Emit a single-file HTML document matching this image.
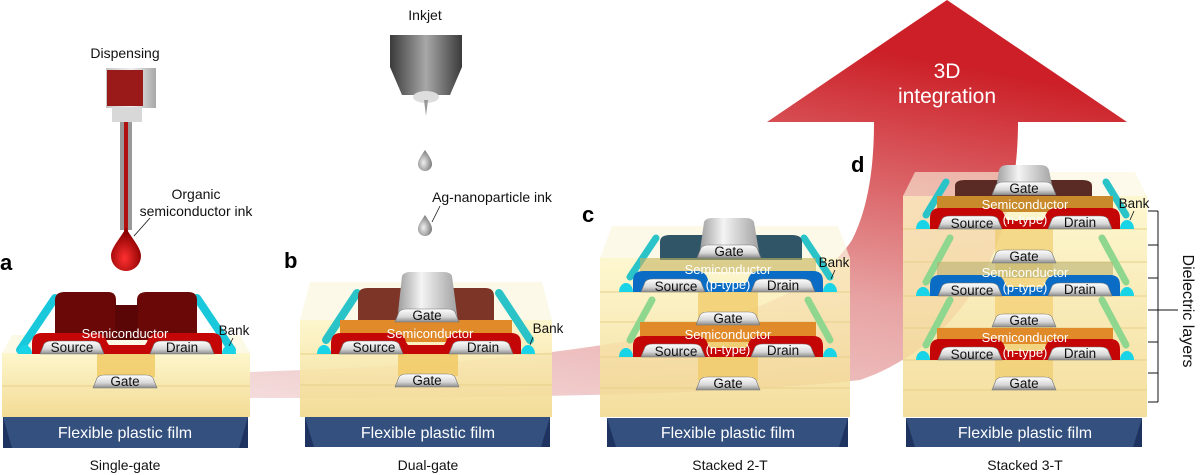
<!DOCTYPE html>
<html><head><meta charset="utf-8"><style>
html,body{margin:0;padding:0;background:#fff;}
svg{display:block;font-family:"Liberation Sans",Arial,sans-serif;}
.w{fill:#fff;font-size:13px;text-anchor:middle;}
.k{fill:#111;font-size:13.5px;text-anchor:middle;}
.f{fill:#fff;font-size:16px;text-anchor:middle;}
.l{fill:#111;font-size:14px;text-anchor:middle;}
.big{fill:#000;font-size:22px;font-weight:bold;}
</style></head><body>
<svg width="1200" height="475" viewBox="0 0 1200 475" xmlns="http://www.w3.org/2000/svg">
<defs>
<linearGradient id="arr" x1="0" y1="1" x2="0.4" y2="0">
<stop offset="0" stop-color="#f4dcdc"/><stop offset="0.45" stop-color="#e8a4a4"/><stop offset="1" stop-color="#cc1f27"/></linearGradient>
<linearGradient id="pg" x1="0" y1="0" x2="0" y2="1"><stop offset="0" stop-color="#ffffff"/><stop offset="0.6" stop-color="#d8d8d8"/><stop offset="1" stop-color="#8a8a8a"/></linearGradient>
<linearGradient id="tg" x1="0" y1="0" x2="1" y2="0"><stop offset="0" stop-color="#9a9a9a"/><stop offset="0.4" stop-color="#f4f4f4"/><stop offset="1" stop-color="#a0a0a0"/></linearGradient>
<linearGradient id="yf" x1="0" y1="0" x2="0" y2="1"><stop offset="0" stop-color="#fdf6c8"/><stop offset="1" stop-color="#f2d88c"/></linearGradient>
<linearGradient id="hd" x1="0" y1="0" x2="1" y2="0"><stop offset="0" stop-color="#3a3a3a"/><stop offset="0.5" stop-color="#a8a8a8"/><stop offset="1" stop-color="#3a3a3a"/></linearGradient>
<linearGradient id="cyl" x1="0" y1="0" x2="1" y2="0"><stop offset="0" stop-color="#bbb"/><stop offset="0.5" stop-color="#eee"/><stop offset="1" stop-color="#999"/></linearGradient>
<radialGradient id="drop" cx="0.45" cy="0.7" r="0.6"><stop offset="0" stop-color="#ff3030"/><stop offset="1" stop-color="#8a0000"/></radialGradient>
<radialGradient id="ag" cx="0.4" cy="0.6" r="0.6"><stop offset="0" stop-color="#f0f0f0"/><stop offset="1" stop-color="#7a7a7a"/></radialGradient>
<path id="pill" d="M-32,0 L-28,-10 Q-26,-13 -20,-13 H20 Q26,-13 28,-10 L32,0 Z" fill="url(#pg)" stroke="#777" stroke-width="0.6"/>
<g id="tr">
<path d="M-95,0 V-11 Q-95,-21 -85,-21 H-32 Q-22,-21 -20,-12 L-18,-9 H18 L20,-12 Q22,-21 32,-21 H85 Q95,-21 95,-11 V0 Z" fill="currentColor"/>
<use href="#pill" x="-55" y="0"/>
<use href="#pill" x="55" y="0"/>
<path d="M-109,0 A7,9 0 0 1 -95,0 Z" fill="#19d4e6"/>
<path d="M95,0 A7,9 0 0 1 109,0 Z" fill="#19d4e6"/>
</g>
</defs>

<!-- 3D arrow -->
<path d="M250,372 C560,362 790,335 852,240 C870,205 874,160 874,122 L767,122 L947,0 L1127,122 L1018,122 C1018,250 960,345 860,380 C700,398 420,398 250,398 Z" fill="url(#arr)"/>
<text x="947" y="78" fill="#fff" font-size="21" text-anchor="middle">3D</text>
<text x="947" y="103" fill="#fff" font-size="21" text-anchor="middle">integration</text>

<!-- Dispenser -->
<text x="125" y="58" class="l">Dispensing</text>
<rect x="106" y="68" width="50" height="40" fill="url(#cyl)" opacity="0.85"/>
<rect x="107" y="70" width="36" height="36" fill="#9a1a1a"/>
<rect x="112" y="107" width="30" height="15" fill="#d8d8d8"/>
<rect x="120" y="122" width="12" height="108" fill="#999"/>
<rect x="124" y="122" width="4" height="110" fill="#b01010"/>
<path d="M126,228 C133,240 141,248 141,256 A15,15 0 0 1 111,256 C111,248 119,240 126,228 Z" fill="url(#drop)"/>
<text x="196" y="199" class="l">Organic</text>
<text x="196" y="216" class="l">semiconductor ink</text>
<line x1="150" y1="218" x2="134" y2="236" stroke="#111" stroke-width="0.8"/>

<!-- Inkjet -->
<text x="425" y="20" class="l">Inkjet</text>
<rect x="390" y="35" width="72" height="32" fill="url(#hd)"/>
<path d="M390,67 H462 L450,95 H402 Z" fill="url(#hd)"/>
<ellipse cx="426" cy="97" rx="13" ry="6" fill="#ddd"/>
<path d="M424,100 L428,100 L426,116 Z" fill="#999"/>
<path d="M425,150 C429,156 432,160 432,164 A7,7 0 0 1 418,164 C418,160 421,156 425,150 Z" fill="url(#ag)"/>
<path d="M425,215 C429,221 432,225 432,229 A7,7 0 0 1 418,229 C418,225 421,221 425,215 Z" fill="url(#ag)"/>
<text x="492" y="202" class="l">Ag-nanoparticle ink</text>
<line x1="440" y1="206" x2="432" y2="222" stroke="#111" stroke-width="0.8"/>

<text x="0" y="270" class="big">a</text>
<text x="284" y="268" class="big">b</text>
<text x="582" y="222" class="big">c</text>
<text x="851" y="172" class="big">d</text>

<!-- ===== Panel a ===== -->
<g>
<path d="M2,353 L12,335 H240 L250,353 Z" fill="#fbf7e0" opacity="0.8"/>
<rect x="2" y="353" width="248" height="64" fill="url(#yf)" opacity="0.92"/>
<line x1="2" y1="386" x2="250" y2="386" stroke="#e6d08a"/>
<rect x="97" y="353" width="58" height="24" fill="#f0c860" opacity="0.8"/>
<line x1="20" y1="350" x2="55" y2="298" stroke="#19c8da" stroke-width="8" stroke-linecap="round"/>
<line x1="232" y1="350" x2="197" y2="298" stroke="#19c8da" stroke-width="8" stroke-linecap="round"/>
<path d="M55,340 V300 Q55,292 65,292 H108 Q116,292 116,300 V340 Z" fill="#6a0808"/>
<path d="M137,340 V300 Q137,292 147,292 H188 Q197,292 197,300 V340 Z" fill="#6a0808"/>
<rect x="115" y="305" width="23" height="35" fill="#5a0606"/>
<use href="#tr" x="127" y="354" color="#c40606"/>
<text x="125" y="338" class="w">Semiconductor</text>
<text x="72" y="352" class="k">Source</text>
<text x="182" y="352" class="k">Drain</text>
<use href="#pill" x="125" y="388"/>
<text x="125" y="386" class="k">Gate</text>
<text x="234" y="335" class="k">Bank</text>
<line x1="233" y1="338" x2="229" y2="346" stroke="#111" stroke-width="0.8"/>
<path d="M3,417 H248 V448 H3 Z" fill="#33507f"/>
<path d="M3,417 L12,448 H3 Z M248,417 L239,448 H248 Z" fill="#1e3360"/>
<text x="125" y="438" class="f">Flexible plastic film</text>
<text x="125" y="470" class="l">Single-gate</text>
</g>

<!-- ===== Panel b ===== -->
<g>
<path d="M300,320 L310,282 H542 L552,320 Z" fill="#fbf7e0" opacity="0.75"/>
<rect x="300" y="320" width="252" height="97" fill="url(#yf)" opacity="0.9"/>
<line x1="300" y1="354" x2="552" y2="354" stroke="#e6d08a"/>
<line x1="300" y1="385" x2="552" y2="385" stroke="#e6d08a"/>
<rect x="398" y="354" width="60" height="22" fill="#f0c860" opacity="0.8"/>
<line x1="326" y1="340" x2="357" y2="293" stroke="#2ac4c8" stroke-width="8" stroke-linecap="round"/>
<line x1="530" y1="340" x2="499" y2="293" stroke="#2ac4c8" stroke-width="8" stroke-linecap="round"/>
<path d="M358,322 V296 Q358,288 368,288 H485 Q494,288 494,296 V322 Z" fill="#7c3526"/>
<rect x="340" y="320" width="172" height="22" fill="#e08a2a"/>
<use href="#tr" x="426" y="354" color="#c40606"/>
<path d="M397,322 L402,276 Q404,272 410,272 H444 Q450,272 452,276 L458,322 Z" fill="url(#tg)"/>
<use href="#pill" x="427" y="322"/>
<text x="427" y="320" class="k">Gate</text>
<text x="430" y="338" class="w">Semiconductor</text>
<text x="374" y="352" class="k">Source</text>
<text x="483" y="352" class="k">Drain</text>
<use href="#pill" x="427" y="387"/>
<text x="427" y="385" class="k">Gate</text>
<text x="548" y="333" class="k">Bank</text>
<line x1="533" y1="337" x2="530" y2="345" stroke="#111" stroke-width="0.8"/>
<path d="M305,417 H550 V447 H305 Z" fill="#33507f"/>
<path d="M305,417 L314,447 H305 Z M550,417 L541,447 H550 Z" fill="#1e3360"/>
<text x="428" y="438" class="f">Flexible plastic film</text>
<text x="428" y="470" class="l">Dual-gate</text>
</g>

<!-- ===== Panel c ===== -->
<g>
<path d="M600,258 L612,226 H838 L850,258 Z" fill="#fbf7e0" opacity="0.7"/>
<rect x="600" y="258" width="250" height="159" fill="url(#yf)" opacity="0.85"/>
<line x1="600" y1="292" x2="850" y2="292" stroke="#e6d08a"/>
<line x1="600" y1="322" x2="850" y2="322" stroke="#e6d08a"/>
<line x1="600" y1="357" x2="850" y2="357" stroke="#e6d08a"/>
<line x1="600" y1="388" x2="850" y2="388" stroke="#e6d08a"/>
<rect x="698" y="292" width="60" height="88" fill="#f0c860" opacity="0.7"/>
<line x1="630" y1="340" x2="652" y2="300" stroke="#8fd68f" stroke-width="7" stroke-linecap="round"/>
<line x1="830" y1="340" x2="808" y2="300" stroke="#8fd68f" stroke-width="7" stroke-linecap="round"/>
<rect x="640" y="322" width="176" height="20" fill="#e08a2a"/>
<use href="#tr" x="728" y="357" color="#c40606"/>
<line x1="630" y1="277" x2="656" y2="238" stroke="#2ac4c8" stroke-width="7" stroke-linecap="round"/>
<line x1="830" y1="277" x2="804" y2="238" stroke="#2ac4c8" stroke-width="7" stroke-linecap="round"/>
<path d="M660,260 V242 Q660,235 670,235 H792 Q802,235 802,242 V260 Z" fill="#2f5566"/>
<rect x="640" y="258" width="176" height="14" fill="#c4b460" opacity="0.6"/>
<use href="#tr" x="728" y="292" color="#0a6cc4"/>
<path d="M699,258 L704,222 Q706,218 712,218 H746 Q752,218 754,222 L760,258 Z" fill="url(#tg)"/>
<use href="#pill" x="729" y="258"/>
<text x="729" y="256" class="k">Gate</text>
<text x="728" y="274" class="w">Semiconductor</text>
<text x="728" y="289" class="w">(p-type)</text>
<text x="676" y="291" class="k">Source</text>
<text x="783" y="290" class="k">Drain</text>
<use href="#pill" x="728" y="325"/>
<text x="728" y="323" class="k">Gate</text>
<text x="728" y="339" class="w">Semiconductor</text>
<text x="728" y="354" class="w">(n-type)</text>
<text x="676" y="356" class="k">Source</text>
<text x="783" y="355" class="k">Drain</text>
<use href="#pill" x="728" y="390"/>
<text x="728" y="388" class="k">Gate</text>
<text x="834" y="267" class="k">Bank</text>
<line x1="835" y1="270" x2="831" y2="279" stroke="#111" stroke-width="0.8"/>
<path d="M607,418 H848 V447 H607 Z" fill="#33507f"/>
<path d="M607,418 L616,447 H607 Z M848,418 L839,447 H848 Z" fill="#1e3360"/>
<text x="728" y="438" class="f">Flexible plastic film</text>
<text x="730" y="470" class="l">Stacked 2-T</text>
</g>

<!-- ===== Panel d ===== -->
<g>
<path d="M903,196 L915,172 H1135 L1147,196 Z" fill="#fbf7e0" opacity="0.6"/>
<rect x="903" y="196" width="244" height="221" fill="url(#yf)" opacity="0.84"/>
<line x1="903" y1="229" x2="1147" y2="229" stroke="#e6d08a"/>
<line x1="903" y1="262" x2="1147" y2="262" stroke="#e6d08a"/>
<line x1="903" y1="296" x2="1147" y2="296" stroke="#e6d08a"/>
<line x1="903" y1="328" x2="1147" y2="328" stroke="#e6d08a"/>
<line x1="903" y1="360" x2="1147" y2="360" stroke="#e6d08a"/>
<line x1="903" y1="390" x2="1147" y2="390" stroke="#e6d08a"/>
<rect x="995" y="229" width="58" height="152" fill="#f0c860" opacity="0.6"/>
<line x1="926" y1="345" x2="950" y2="300" stroke="#8fd68f" stroke-width="7" stroke-linecap="round"/>
<line x1="1126" y1="345" x2="1102" y2="300" stroke="#8fd68f" stroke-width="7" stroke-linecap="round"/>
<line x1="926" y1="282" x2="950" y2="238" stroke="#8fd68f" stroke-width="7" stroke-linecap="round"/>
<line x1="1126" y1="282" x2="1102" y2="238" stroke="#8fd68f" stroke-width="7" stroke-linecap="round"/>
<rect x="937" y="328" width="176" height="16" fill="#e08a2a"/>
<use href="#tr" x="1025" y="360" color="#c40606"/>
<rect x="937" y="262" width="176" height="16" fill="#b8b070" opacity="0.6"/>
<use href="#tr" x="1025" y="296" color="#0a6cc4"/>
<line x1="926" y1="215" x2="946" y2="182" stroke="#2ac4c8" stroke-width="7" stroke-linecap="round"/>
<line x1="1126" y1="215" x2="1106" y2="182" stroke="#2ac4c8" stroke-width="7" stroke-linecap="round"/>
<path d="M955,198 V186 Q955,180 965,180 H1082 Q1092,180 1092,186 V198 Z" fill="#5a2a24"/>
<rect x="937" y="196" width="176" height="16" fill="#c88a2a"/>
<use href="#tr" x="1025" y="229" color="#c40606"/>
<path d="M995,195 L999,170 Q1001,165 1007,165 H1041 Q1047,165 1049,170 L1054,195 Z" fill="url(#tg)"/>
<use href="#pill" x="1024" y="195"/>
<text x="1024" y="193" class="k">Gate</text>
<text x="1025" y="209" class="w">Semiconductor</text>
<text x="1025" y="224" class="w">(n-type)</text>
<text x="972" y="228" class="k">Source</text>
<text x="1080" y="227" class="k">Drain</text>
<use href="#pill" x="1024" y="263"/>
<text x="1024" y="261" class="k">Gate</text>
<text x="1025" y="277" class="w">Semiconductor</text>
<text x="1025" y="292" class="w">(p-type)</text>
<text x="972" y="295" class="k">Source</text>
<text x="1080" y="294" class="k">Drain</text>
<use href="#pill" x="1024" y="327"/>
<text x="1024" y="325" class="k">Gate</text>
<text x="1025" y="342" class="w">Semiconductor</text>
<text x="1025" y="357" class="w">(n-type)</text>
<text x="972" y="359" class="k">Source</text>
<text x="1080" y="358" class="k">Drain</text>
<use href="#pill" x="1024" y="390"/>
<text x="1024" y="388" class="k">Gate</text>
<text x="1134" y="208" class="k">Bank</text>
<line x1="1134" y1="211" x2="1130" y2="220" stroke="#111" stroke-width="0.8"/>
<path d="M906,418 H1142 V447 H906 Z" fill="#33507f"/>
<path d="M906,418 L915,447 H906 Z M1142,418 L1133,447 H1142 Z" fill="#1e3360"/>
<text x="1025" y="438" class="f">Flexible plastic film</text>
<text x="1025" y="470" class="l">Stacked 3-T</text>
</g>

<!-- bracket -->
<g stroke="#111" stroke-width="1" fill="none">
<line x1="1158" y1="211" x2="1158" y2="402"/>
<line x1="1148" y1="211" x2="1158" y2="211"/>
<line x1="1148" y1="245" x2="1158" y2="245"/>
<line x1="1148" y1="278" x2="1158" y2="278"/>
<line x1="1148" y1="310" x2="1178" y2="310"/>
<line x1="1148" y1="342" x2="1158" y2="342"/>
<line x1="1148" y1="373" x2="1158" y2="373"/>
<line x1="1148" y1="402" x2="1158" y2="402"/>
</g>
<text x="1183" y="311" fill="#111" font-size="16" text-anchor="middle" transform="rotate(90 1183 311)">Dielectric layers</text>
</svg>
</body></html>
